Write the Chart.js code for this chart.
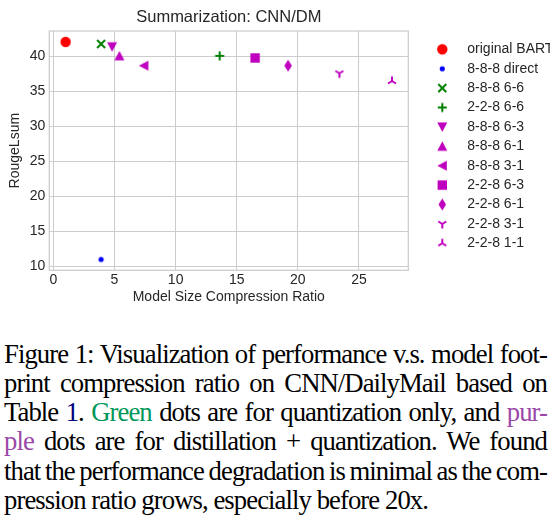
<!DOCTYPE html>
<html>
<head>
<meta charset="utf-8">
<script src="https://cdn.jsdelivr.net/npm/chart.js@4/dist/chart.umd.min.js"></script>
<style>
body { margin: 0; background: #fff; }
#wrap { position: absolute; left: 0; top: 0; width: 550px; height: 310px; }
#caption {
    position: absolute; left: 4px; top: 339.7px; width: 560px;
    font-family: "Liberation Serif", "Times New Roman", serif;
    font-size: 26.7px; line-height: 29.2px; color: #000;
}
#caption div { white-space: nowrap; }
.blue { color: #00007f; }
.green { color: #00985a; }
.purple { color: #9b48a8; }
</style>
</head>
<body>
<div id="wrap"><canvas id="grafico" width="550" height="310"></canvas></div>
<div id="caption">
    <div><span>Figure 1: Visualization of performance v.s. model foot-</span></div>
    <div><span>print compression ratio on CNN/DailyMail based on</span></div>
    <div><span>Table <span class="blue">1</span>. <span class="green">Green</span> dots are for quantization only, and <span class="purple">pur-</span></span></div>
    <div><span><span class="purple">ple</span> dots are for distillation + quantization. We found</span></div>
    <div><span>that the performance degradation is minimal as the com-</span></div>
    <div><span>pression ratio grows, especially before 20x.</span></div>
</div>
<script>
// dados
const labels = ["original BART", "8-8-8 direct", "8-8-8 6-6", "2-2-8 6-6", "8-8-8 6-3", "8-8-8 6-1",
                "8-8-8 3-1", "2-2-8 6-3", "2-2-8 6-1", "2-2-8 3-1", "2-2-8 1-1"];
const ratios = [1.0, 3.9, 3.9, 13.6, 4.8, 5.4, 7.4, 16.5, 19.2, 23.4, 27.7];
const rouge = [42.1, 11.0, 41.8, 40.1, 41.4, 40.1, 38.7, 39.8, 38.7, 37.6, 36.5];
const xTicks = [0, 5, 10, 15, 20, 25];
const yTicks = [10, 15, 20, 25, 30, 35, 40];

// estilo dos marcadores (matplotlib)
const markerKinds = ["o", ".", "x", "+", "v", "^", "<", "s", "d", "1", "2"];
const markerColors = ["#ff0000", "#0000ff", "#008000", "#008000", "#bf00bf", "#bf00bf",
                      "#bf00bf", "#bf00bf", "#bf00bf", "#bf00bf", "#bf00bf"];

const textColor = "#262626";
const gridColor = "#cccccc";
Chart.defaults.font.family = "'Liberation Sans', Arial, sans-serif";

// legenda do texto: letras um pouco mais estreitas e linhas justificadas como no PDF
function ajustarLegenda() {
    const cap = document.getElementById("caption");
    const linhas = Array.from(cap.children);
    const ultima = linhas[linhas.length - 1].firstElementChild;
    const n = ultima.textContent.length;
    const aperto = (424 - ultima.getBoundingClientRect().width) / n;
    cap.style.letterSpacing = aperto + "px";
    const largura = 543;
    linhas.slice(0, -1).forEach(div => {
        const span = div.firstElementChild;
        const w = span.getBoundingClientRect().width;
        const espacos = (span.textContent.match(/ /g) || []).length;
        span.style.wordSpacing = ((largura - w) / espacos) + "px";
    });
}
ajustarLegenda();

function desenharMarcador(ctx, kind, color, cx, cy) {
    ctx.fillStyle = color;
    ctx.strokeStyle = color;
    ctx.lineWidth = 2;
    ctx.beginPath();
    switch (kind) {
        case "o": ctx.arc(cx, cy, 5.2, 0, Math.PI * 2); ctx.fill(); break;
        case ".": ctx.arc(cx, cy, 2.6, 0, Math.PI * 2); ctx.fill(); break;
        case "x":
            ctx.moveTo(cx - 4, cy - 4); ctx.lineTo(cx + 4, cy + 4);
            ctx.moveTo(cx + 4, cy - 4); ctx.lineTo(cx - 4, cy + 4);
            ctx.stroke(); break;
        case "+":
            ctx.moveTo(cx - 4.5, cy); ctx.lineTo(cx + 4.5, cy);
            ctx.moveTo(cx, cy - 4.5); ctx.lineTo(cx, cy + 4.5);
            ctx.stroke(); break;
        case "v":
            ctx.moveTo(cx - 5, cy - 4.5); ctx.lineTo(cx + 5, cy - 4.5); ctx.lineTo(cx, cy + 5);
            ctx.closePath(); ctx.fill(); break;
        case "^":
            ctx.moveTo(cx - 5, cy + 4.5); ctx.lineTo(cx + 5, cy + 4.5); ctx.lineTo(cx, cy - 5);
            ctx.closePath(); ctx.fill(); break;
        case "<":
            ctx.moveTo(cx + 4.5, cy - 5); ctx.lineTo(cx + 4.5, cy + 5); ctx.lineTo(cx - 5, cy);
            ctx.closePath(); ctx.fill(); break;
        case "s": ctx.fillRect(cx - 4.7, cy - 4.7, 9.4, 9.4); break;
        case "d":
            ctx.moveTo(cx, cy - 6); ctx.lineTo(cx + 3.8, cy); ctx.lineTo(cx, cy + 6); ctx.lineTo(cx - 3.8, cy);
            ctx.closePath(); ctx.fill(); break;
        case "1":
            ctx.moveTo(cx, cy); ctx.lineTo(cx, cy + 4.5);
            ctx.moveTo(cx, cy); ctx.lineTo(cx - 4, cy - 2.5);
            ctx.moveTo(cx, cy); ctx.lineTo(cx + 4, cy - 2.5);
            ctx.stroke(); break;
        case "2":
            ctx.moveTo(cx, cy); ctx.lineTo(cx, cy - 4.5);
            ctx.moveTo(cx, cy); ctx.lineTo(cx - 4, cy + 2.5);
            ctx.moveTo(cx, cy); ctx.lineTo(cx + 4, cy + 2.5);
            ctx.stroke(); break;
    }
}

function criarMarcador(kind, color, w, h, dx) {
    const c = document.createElement("canvas");
    c.width = w;
    c.height = h;
    desenharMarcador(c.getContext("2d"), kind, color, w / 2 + dx, h / 2);
    return c;
}

const legendMarks = markerKinds.map((k, i) => criarMarcador(k, markerColors[i], 40, 16, 5.3));

// margem de 5% como no matplotlib
function limites(vals) {
    const lo = Math.min(...vals), hi = Math.max(...vals);
    const m = (hi - lo) * 0.05;
    return [lo - m, hi + m];
}
const [xMin, xMax] = limites(ratios);
const [yMin, yMax] = limites(rouge);

const moldura = {
    id: "moldura",
    beforeDatasetsDraw(chart) {
        const a = chart.chartArea;
        const ctx = chart.ctx;
        ctx.save();
        ctx.strokeStyle = gridColor;
        ctx.lineWidth = 1.25;
        ctx.strokeRect(a.left, a.top, a.right - a.left, a.bottom - a.top);
        ctx.restore();
    }
};

const axisFont = { size: 14 };

new Chart(document.getElementById("grafico"), {
    type: "scatter",
    data: {
        datasets: labels.map((lab, i) => ({
            label: lab,
            data: [{ x: ratios[i], y: rouge[i] }],
            pointStyle: criarMarcador(markerKinds[i], markerColors[i], 16, 16, 0),
            backgroundColor: markerColors[i],
            borderColor: markerColors[i],
            pointRadius: 6
        }))
    },
    options: {
        responsive: false,
        animation: false,
        layout: { padding: 0 },
        plugins: {
            title: {
                display: true,
                text: "Summarization: CNN/DM",
                fullSize: false,
                color: textColor,
                font: { size: 16.5, weight: "normal" },
                padding: { top: 7.1, bottom: 4.1 }
            },
            legend: {
                position: "right",
                align: "start",
                maxWidth: 141.7,
                title: {
                    display: true,
                    text: "",
                    font: { size: 10, lineHeight: 1 },
                    padding: { top: 26.9, bottom: 0 }
                },
                labels: {
                    usePointStyle: true,
                    pointStyleWidth: 46.6,
                    padding: 5.4,
                    color: textColor,
                    font: { size: 14 },
                    generateLabels: (chart) => chart.data.datasets.map((ds, i) => ({
                        text: ds.label,
                        pointStyle: legendMarks[i],
                        fillStyle: ds.backgroundColor,
                        strokeStyle: ds.borderColor,
                        lineWidth: 0,
                        hidden: false,
                        datasetIndex: i,
                        fontColor: textColor
                    }))
                }
            },
            tooltip: { enabled: false }
        },
        scales: {
            x: {
                type: "linear",
                min: xMin,
                max: xMax,
                afterFit: (s) => { s.height = 39.7; },
                afterBuildTicks: (s) => { s.ticks = xTicks.map(v => ({ value: v })); },
                grid: { color: gridColor, drawTicks: false },
                border: { display: false },
                ticks: { padding: 1, color: textColor, font: axisFont },
                title: {
                    display: true,
                    text: "Model Size Compression Ratio",
                    color: textColor,
                    font: axisFont,
                    padding: { top: 0, bottom: 4.1 }
                }
            },
            y: {
                type: "linear",
                min: yMin,
                max: yMax,
                afterFit: (s) => { s.width = 49.3; },
                afterBuildTicks: (s) => { s.ticks = yTicks.map(v => ({ value: v })); },
                grid: { color: gridColor, drawTicks: false },
                border: { display: false },
                ticks: { padding: 4, color: textColor, font: axisFont },
                title: {
                    display: true,
                    text: "RougeLsum",
                    color: textColor,
                    font: axisFont,
                    padding: { top: 7.1, bottom: 0 }
                }
            }
        }
    },
    plugins: [moldura]
});
</script>
</body>
</html>
